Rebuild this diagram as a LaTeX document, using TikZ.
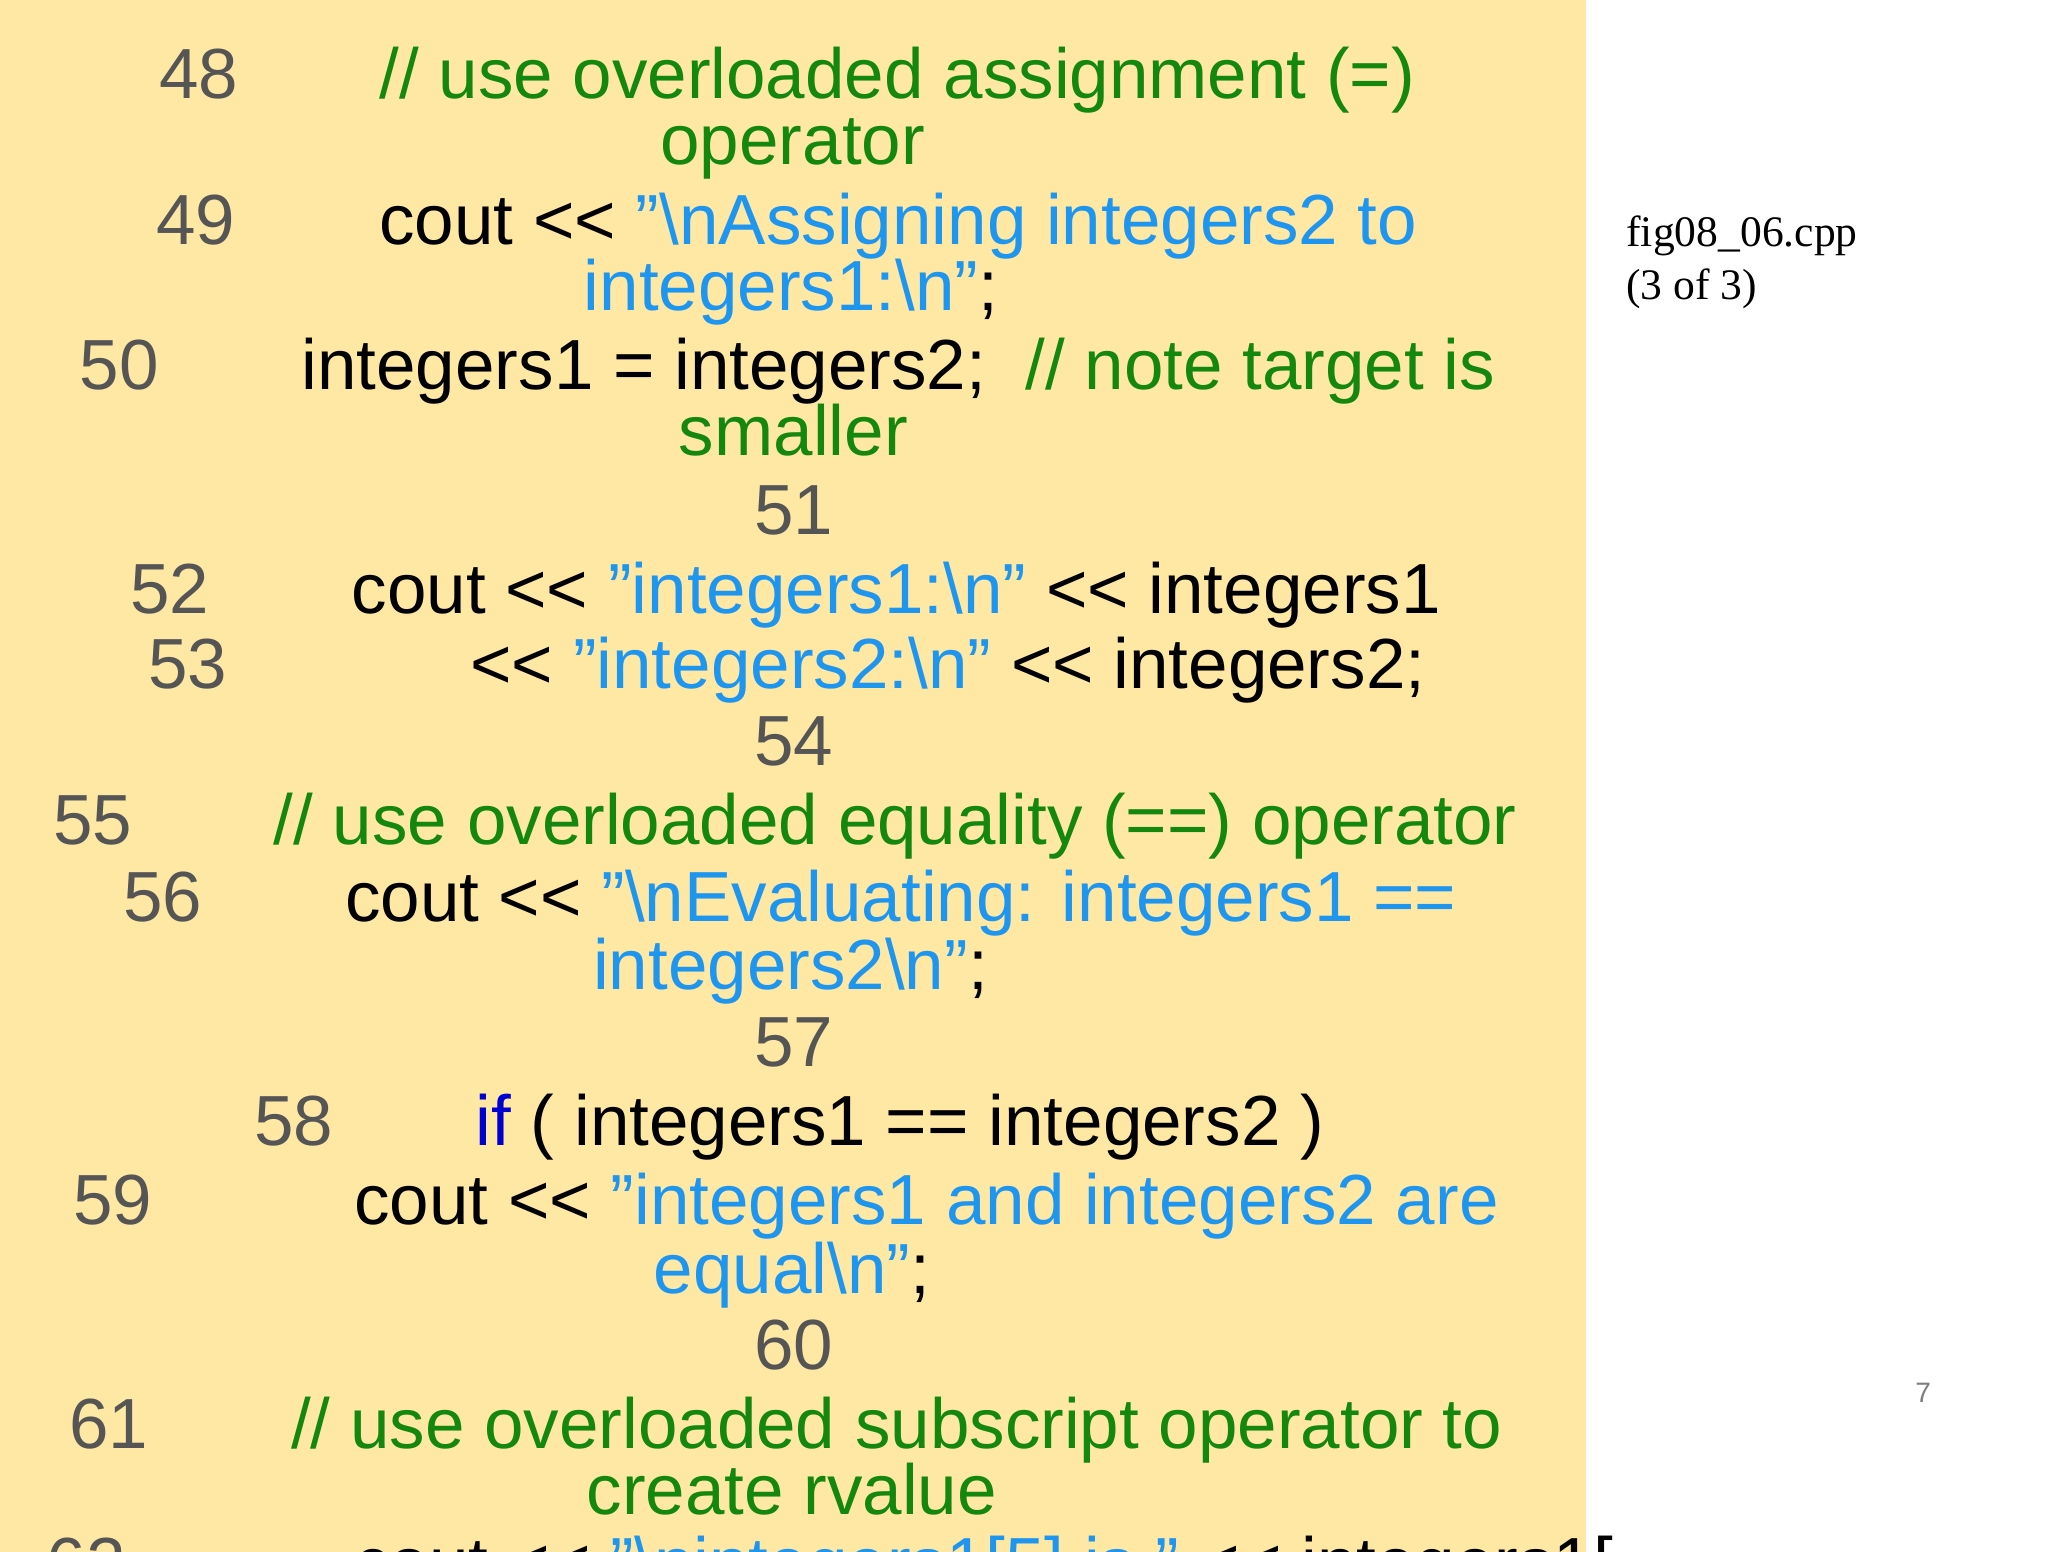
\documentclass[tikz,border=0pt]{standalone}
\usepackage{fontspec}
\setmainfont{Liberation Sans}
\newfontfamily\serifx{Liberation Serif}
\newcommand\qq{\symbol{34}}
\newcommand\shl{<{}<}
\definecolor{bgY}{HTML}{FFE8A3}
\definecolor{cmt}{HTML}{14870F}
\definecolor{str}{HTML}{1E96F0}
\definecolor{num}{HTML}{555555}
\definecolor{kw}{HTML}{0000D0}
\begin{document}
\begin{tikzpicture}[x=0.013196cm,y=-0.013196cm,
  t/.style={anchor=base west,inner sep=0pt,font=\fontsize{20.2}{24}\selectfont},
  n/.style={t,text=num}]
\useasboundingbox (0,0) rectangle (1552,1176);
\fill[white] (0,0) rectangle (1552,1176);
\fill[bgY] (0,0) rectangle (1202,1176);
\begin{scope}
\clip (0,0) rectangle (1552,1176);
\node[n] (n48) at (120,75) {48};
\node[t,text=cmt] (l48) at (287,75) {// use overloaded assignment (=)};
\node[t,text=cmt] (l48b) at (500,125) {operator};
\node[n] (n49) at (118,185) {49};
\node[t] (l49) at (287,185) {cout \shl{} \textcolor{str}{\qq\textbackslash nAssigning integers2 to}};
\node[t] (l49b) at (442,235) {\textcolor{str}{integers1:\textbackslash n\qq};};
\node[n] (n50) at (60,295) {50};
\node[t] (l50) at (228,295) {integers1 = integers2;\ \ \textcolor{cmt}{// note target is}};
\node[t,text=cmt] (l50b) at (514,345) {smaller};
\node[n] (n51) at (571,405) {51};
\node[n] (n52) at (98,465) {52};
\node[t] (l52) at (266,465) {cout \shl{} \textcolor{str}{\qq integers1:\textbackslash n\qq} \shl{} integers1};
\node[n] (n53) at (112,522) {53};
\node[t] (l53) at (356,522) {\shl{} \textcolor{str}{\qq integers2:\textbackslash n\qq} \shl{} integers2;};
\node[n] (n54) at (571,580) {54};
\node[n] (n55) at (40,640) {55};
\node[t,text=cmt] (l55) at (207,640) {// use overloaded equality (==) operator};
\node[n] (n56) at (93,698) {56};
\node[t] (l56) at (261,698) {cout \shl{} \textcolor{str}{\qq\textbackslash nEvaluating: integers1 ==}};
\node[t] (l56b) at (449,750) {\textcolor{str}{integers2\textbackslash n\qq};};
\node[n] (n57) at (571,808) {57};
\node[n] (n58) at (192,868) {58};
\node[t] (l58) at (360,868) {\textcolor{kw}{if} ( integers1 == integers2 )};
\node[n] (n59) at (55,928) {59};
\node[t] (l59) at (268,928) {cout \shl{} \textcolor{str}{\qq integers1 and integers2 are}};
\node[t] (l59b) at (495,980) {\textcolor{str}{equal\textbackslash n\qq};};
\node[n] (n60) at (571,1038) {60};
\node[n] (n61) at (52,1098) {61};
\node[t,text=cmt] (l61) at (220,1098) {// use overloaded subscript operator to};
\node[t,text=cmt] (l61b) at (444,1148) {create rvalue};
\node[n] (n62) at (35,1203) {62};
\node[t] (l62) at (268,1203) {cout \shl{} \textcolor{str}{\qq\textbackslash nintegers1[5] is \qq} \shl{} integers1[};
\end{scope}
\node[anchor=base west,inner sep=0pt,font=\serifx\fontsize{12.4}{15}\selectfont] (f1) at (1232,187) {fig08\_06.cpp};
\node[anchor=base west,inner sep=0pt,font=\serifx\fontsize{12.4}{15}\selectfont] (f2) at (1232,227) {(3 of 3)};
\node[anchor=base west,inner sep=0pt,text=gray,font=\fontsize{8}{10}\selectfont] (pg) at (1451,1063) {7};
\end{tikzpicture}
\end{document}
